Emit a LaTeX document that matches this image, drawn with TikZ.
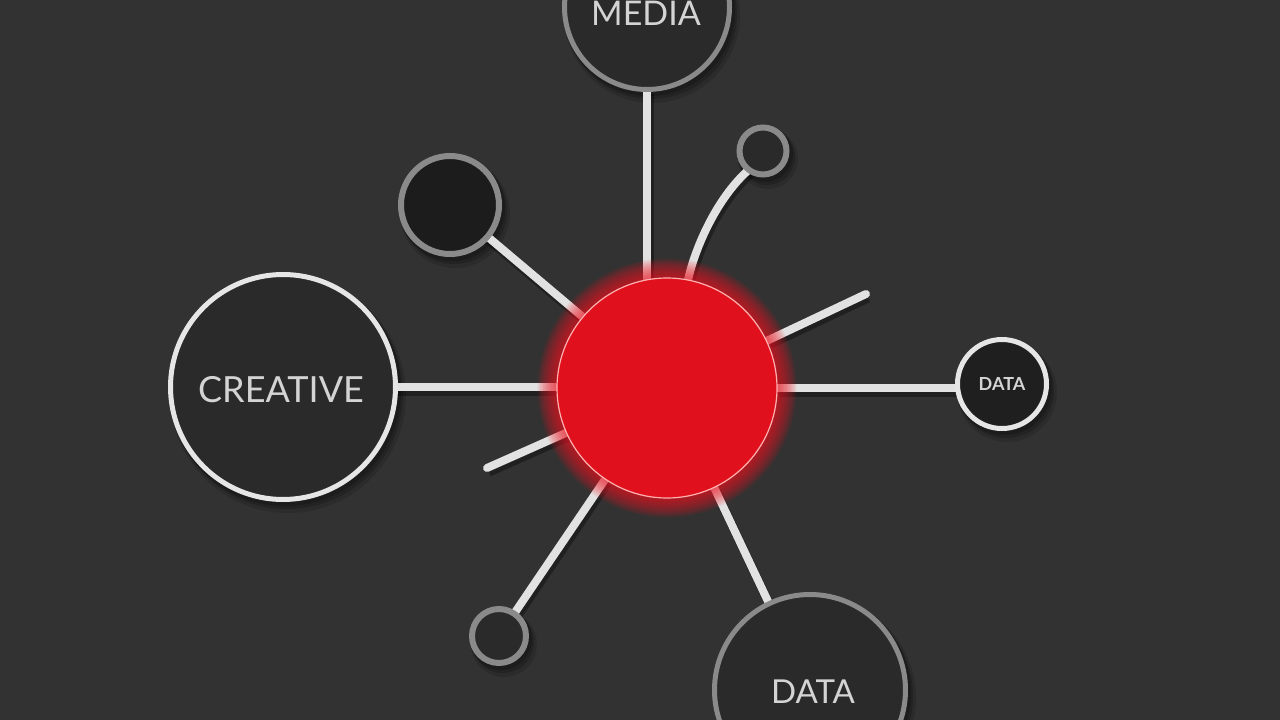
\documentclass[tikz,border=0pt]{standalone}
\usepackage{fontspec}
\setmainfont{Lato}
\definecolor{bgc}{HTML}{323232}
\definecolor{linec}{HTML}{E2E2E2}
\definecolor{lightring}{HTML}{E6E6E6}
\definecolor{grayring}{HTML}{8A8A8A}
\definecolor{innerc}{HTML}{2A2A2A}
\definecolor{darkin}{HTML}{1C1C1C}
\definecolor{hubred}{HTML}{E0111D}
\definecolor{hubrim}{HTML}{FFB0B0}
\definecolor{glowc}{HTML}{F41422}
\definecolor{txtc}{HTML}{D4D4D4}
\pgfdeclarelayer{bgl}
\pgfdeclarelayer{shad}
\pgfdeclarelayer{lines}
\pgfdeclarelayer{glow}
\pgfsetlayers{bgl,shad,lines,glow,main}
\tikzset{
  ring/.style={circle, inner sep=0pt, outer sep=0pt},
  lightringst/.style={ring, draw=lightring, line width=5pt, fill=innerc},
  grayringst/.style={ring, draw=grayring, line width=5pt, fill=innerc},
  conn/.style={draw=linec, line width=8pt, line cap=round,
    preaction={draw=black, opacity=0.35, line width=9pt, transform canvas={xshift=2pt, yshift=-4pt}}},
  lbl/.style={text=txtc, inner sep=0pt, anchor=base}
}
\begin{document}
\begin{tikzpicture}[x=1pt,y=-1pt]
\useasboundingbox (0,0) rectangle (1280,720);
\begin{pgfonlayer}{bgl}
  \fill[bgc] (0,0) rectangle (1280,720);
\end{pgfonlayer}

% nodes
\node[circle, inner sep=0pt, outer sep=0pt, minimum size=220pt, fill=hubred, draw=hubrim, line width=1.2pt] (hub) at (667,388) {};
\node[grayringst, minimum size=165pt] (media) at (647,7) {};
\node[grayringst, minimum size=98pt, line width=6pt, fill=darkin] (dark) at (450,205) {};
\node[grayringst, minimum size=47pt, line width=6pt, fill=innerc] (tr) at (763,151) {};
\node[lightringst, minimum size=225pt] (creative) at (283,387) {};
\node[lightringst, minimum size=89pt, fill=darkin!80!innerc] (datar) at (1002,384) {};
\node[grayringst, minimum size=54pt, line width=6pt] (bl) at (499,636) {};
\node[grayringst, minimum size=191pt] (datab) at (810,690) {};

% labels
\node[lbl, font=\fontsize{34}{34}\selectfont] (tmedia) at (646,25) {MEDIA};
\node[lbl, font=\fontsize{36}{36}\selectfont] (tcreative) at (281,402) {CREATIVE};
\node[lbl, font=\fontsize{33}{33}\selectfont] (tdatab) at (813,703) {DATA};
\node[lbl, font=\bfseries\fontsize{18}{18}\selectfont] (tdatar) at (1002,390) {DATA};

% free ends of spurs
\coordinate (s1) at (866,294);
\coordinate (s2) at (487,468);

% drop shadows of the rings
\begin{pgfonlayer}{shad}
  \foreach \n/\r in {media/86, dark/53, tr/28, creative/116, datar/48, bl/31, datab/99} {
    \fill[black, opacity=0.12] ([shift={(5,8)}]\n.center) circle (\r+2);
    \fill[black, opacity=0.18] ([shift={(4,6)}]\n.center) circle (\r);
    \fill[black, opacity=0.2] ([shift={(2,3)}]\n.center) circle (\r);
  }
\end{pgfonlayer}

% glow
\begin{pgfonlayer}{glow}
  \foreach \k in {1,...,14} {
    \fill[glowc, opacity=0.075] (hub) circle ({110+\k*1.4});
  }
\end{pgfonlayer}

% connectors
\begin{pgfonlayer}{lines}
  \draw[conn] (media) -- (media |- hub);
  \draw[conn] (hub.79) .. controls +(7,-32) and +(-32,28) .. (tr.233);
  \draw[conn] (hub) -- (dark);
  \draw[conn] (creative) -- (creative -| hub);
  \draw[conn] (hub) -- (hub -| datar);
  \draw[conn] (hub) -- (s1);
  \draw[conn] (hub) -- (s2);
  \draw[conn] (hub) -- (bl);
  \draw[conn] (hub) -- (datab);
\end{pgfonlayer}
\end{tikzpicture}
\end{document}
